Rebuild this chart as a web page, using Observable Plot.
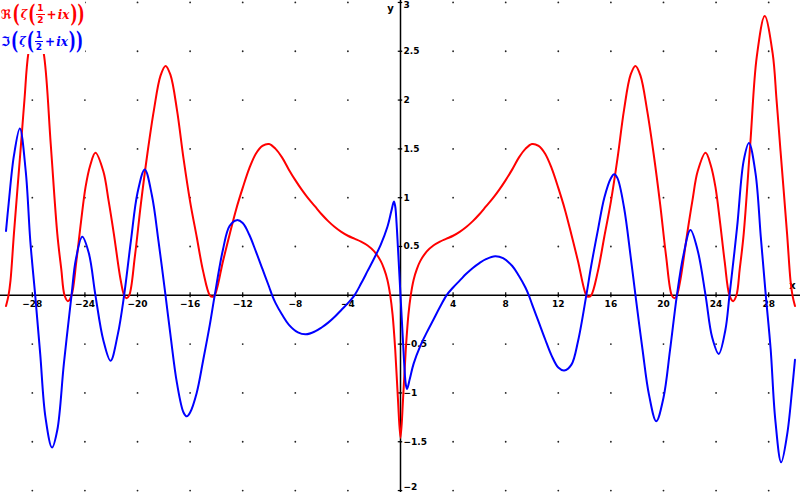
<!DOCTYPE html>
<html>
<head>
<meta charset="utf-8">
<script src="https://cdn.jsdelivr.net/npm/d3@7"></script>
<script src="https://cdn.jsdelivr.net/npm/@observablehq/plot@0.6"></script>
<style>
  html, body { margin: 0; padding: 0; background: #fff; }
  #wrap { position: relative; width: 800px; height: 492px; overflow: hidden; }
  #lgbox { position: absolute; left: 0; top: 0; width: 85px; height: 54px; background: #fff; }
  .lg { position: absolute; left: 1px; height: 27px; display: flex; align-items: center;
        font-family: "DejaVu Serif", "DejaVu Sans", serif; font-weight: bold; line-height: 1; white-space: nowrap; }
  .lg .sym { font-size: 13px; margin-right: 1px; font-family: "DejaVu Sans", sans-serif; }
  .lg .p { font-size: 15px; display: inline-block; transform: scaleY(1.65); margin: 0; }
  .lg .z { font-style: italic; font-size: 11px; margin: 0 1px; }
  .lg .frac { display: inline-flex; flex-direction: column; align-items: center; font-size: 9px; margin: 0 1px; font-family: "DejaVu Sans", sans-serif; }
  .lg .frac .n { border-bottom: 1.4px solid currentColor; padding: 0 1px 1px; }
  .lg .frac .d { padding-top: 1px; }
  .lg .plus { font-size: 12px; margin: 0 1px; }
  .lg .ix { font-style: italic; font-size: 12px; margin-right: 1px; }
</style>
</head>
<body>
<div id="wrap"></div>
<script>
// Re(ζ(1/2+ix))
const reX = [-30, -29.81, -29.66, -29.4, -28.9, -28.6, -28.3, -27.7, -27.1, -26.6, -26.1, -25.8, -25.55, -25.3, -25.02,
  -24.65, -24.3, -23.95, -23.6, -23.2, -22.6, -22.2, -21.8, -21.3, -21.02, -20.84, -20.63, -20.2, -19.75, -19.25,
  -18.75, -18.25, -17.87, -17.5, -17, -16.5, -16, -15.5, -15, -14.5, -14.3, -14.13, -13.5, -13, -12.5, -12, -11.5,
  -11, -10.5, -10, -9.5, -9, -8.5, -8, -7.5, -7, -6.5, -6, -5.5, -5, -4.5, -4, -3.5, -3, -2.5, -2, -1.5, -1.25, -1,
  -0.78, -0.6, -0.4, -0.2, 0,
  0.2, 0.4, 0.6, 0.78, 1, 1.25, 1.5, 2, 2.5, 3, 3.5, 4, 4.5, 5, 5.5, 6, 6.5, 7, 7.5, 8, 8.5, 9, 9.5, 10, 10.5, 11,
  11.5, 12, 12.5, 13, 13.5, 14.13, 14.3, 14.5, 15, 15.5, 16, 16.5, 17, 17.5, 17.87, 18.25, 18.75, 19.25, 19.75, 20.2,
  20.63, 20.84, 21.02, 21.3, 21.8, 22.2, 22.6, 23.2, 23.6, 23.95, 24.3, 24.65, 25.02, 25.3, 25.55, 25.8, 26.1, 26.6,
  27.1, 27.7, 28.3, 28.6, 28.9, 29.4, 29.66, 29.81, 30];
const reY = [-0.11, 0, 0.15, 0.63, 1.48, 2.0, 2.48, 2.86, 2.45, 1.55, 0.63, 0.27, 0, -0.06, 0,
  0.35, 0.75, 1.11, 1.33, 1.46, 1.27, 0.97, 0.63, 0.17, 0, -0.03, 0, 0.4, 0.93, 1.45,
  1.9, 2.25, 2.35, 2.26, 1.9, 1.4, 0.96, 0.6, 0.24, 0, -0.015, 0, 0.35, 0.62, 0.88, 1.1, 1.3,
  1.45, 1.53, 1.55, 1.50, 1.41, 1.29, 1.18, 1.08, 0.99, 0.91, 0.83, 0.76, 0.70, 0.65, 0.61, 0.58, 0.55, 0.51, 0.45, 0.35, 0.27, 0.16,
  0, -0.2, -0.56, -1.05, -1.46,
  -1.05, -0.56, -0.2, 0, 0.16, 0.27, 0.35, 0.45, 0.51, 0.55, 0.58, 0.61, 0.65, 0.70, 0.76, 0.83, 0.91, 0.99, 1.08, 1.18, 1.29, 1.41, 1.50, 1.55, 1.53, 1.45,
  1.3, 1.1, 0.88, 0.62, 0.35, 0, -0.015, 0, 0.24, 0.6, 0.96, 1.4, 1.9, 2.26, 2.35, 2.25, 1.9, 1.45, 0.93, 0.4,
  0, -0.03, 0, 0.17, 0.63, 0.97, 1.27, 1.46, 1.33, 1.11, 0.75, 0.35, 0, -0.06, 0, 0.27, 0.63, 1.55,
  2.45, 2.86, 2.48, 2.0, 1.48, 0.63, 0.15, 0, -0.11];

// Im(ζ(1/2+ix))
const imX = [-30, -29.8, -29.4, -28.95, -28.5, -28.15, -27.78, -27.4, -27, -26.5, -26.1, -25.6, -25.02, -24.7, -24.2,
  -23.7, -23.2, -22.6, -22.05, -21.5, -21.02, -20.5, -20, -19.45, -18.9, -18.4, -17.87, -17.5, -17, -16.5, -16.25,
  -16, -15.5, -15, -14.5, -14.13, -13.5, -13, -12.45, -12, -11.5, -11, -10.5, -10, -9.76, -9.5, -9, -8.5, -7.8,
  -7.2, -6.5, -6, -5.5, -5, -4.5, -4, -3.5, -3, -2.5, -2, -1.5, -1, -0.7, -0.5, -0.4, -0.3, -0.2, -0.1, 0,
  0.1, 0.2, 0.3, 0.4, 0.5, 0.7, 1, 1.5, 2, 2.5, 3, 3.5, 4, 4.5, 5, 5.5, 6, 6.5, 7.2, 7.8, 8.5, 9, 9.5, 9.76, 10,
  10.5, 11, 11.5, 12, 12.45, 13, 13.5, 14.13, 14.5, 15, 15.5, 16, 16.25, 16.5, 17, 17.5, 17.87, 18.4, 18.9, 19.45,
  20, 20.5, 21.02, 21.5, 22.05, 22.6, 23.2, 23.7, 24.2, 24.7, 25.02, 25.6, 26.1, 26.5, 27, 27.4, 27.78, 28.15,
  28.5, 28.95, 29.4, 29.8, 30];
const imY = [0.66, 0.94, 1.43, 1.71, 1.27, 0.55, 0, -0.6, -1.25, -1.56, -1.38, -0.70, 0, 0.36, 0.6,
  0.43, 0, -0.46, -0.67, -0.4, 0, 0.56, 1.05, 1.29, 1.02, 0.55, 0, -0.4, -0.9, -1.2, -1.24,
  -1.2, -1.0, -0.66, -0.3, 0, 0.47, 0.71, 0.77, 0.74, 0.62, 0.45, 0.27, 0.09, 0, -0.08, -0.2, -0.3, -0.38,
  -0.40, -0.37, -0.33, -0.28, -0.22, -0.15, -0.08, 0, 0.12, 0.25, 0.38, 0.52, 0.70, 0.86, 0.96, 0.91, 0.74, 0.5, 0.25, 0,
  -0.25, -0.5, -0.74, -0.91, -0.96, -0.86, -0.70, -0.52, -0.38, -0.25, -0.12, 0, 0.08, 0.15, 0.22, 0.28, 0.33, 0.37, 0.40, 0.38, 0.3, 0.2, 0.08, 0, -0.09,
  -0.27, -0.45, -0.62, -0.74, -0.77, -0.71, -0.47, 0, 0.3, 0.66, 1.0, 1.2, 1.24, 1.2, 0.9, 0.4, 0, -0.55, -1.02, -1.29,
  -1.05, -0.56, 0, 0.4, 0.67, 0.46, 0, -0.43, -0.6, -0.36, 0, 0.70, 1.38, 1.56, 1.25, 0.6, 0, -0.55,
  -1.27, -1.71, -1.43, -0.94, -0.66];

const xTicks = [-28, -24, -20, -16, -12, -8, -4, 4, 8, 12, 16, 20, 24, 28];
const yTicks = [-2, -1.5, -1, -0.5, 0.5, 1, 1.5, 2, 2.5, 3];
const gridX = [-28, -24, -20, -16, -12, -8, -4, 0, 4, 8, 12, 16, 20, 24, 28];
const gridY = [-2, -1.5, -1, -0.5, 0, 0.5, 1, 1.5, 2, 2.5, 3];

const re = reX.map((x, i) => ({x, y: reY[i]}));
const im = imX.map((x, i) => ({x, y: imY[i]}));
const grid = d3.cross(gridX, gridY).map(([x, y]) => ({x, y}));
const fmt = v => String(v).replace("-", "\u2212");
const lab = {fontFamily: "DejaVu Sans, sans-serif", fontWeight: "bold", fontSize: 9, fill: "black"};
const yMid = yTicks.filter(v => v !== 3 && v !== -2);

const chart = Plot.plot({
  width: 800,
  height: 492,
  margin: 0,
  x: {domain: [-30.42, 30.42], axis: null},
  y: {domain: [-2.02, 3.02], axis: null},
  style: {background: "white"},
  marks: [
    Plot.dot(grid, {x: "x", y: "y", r: 0.9, fill: "#222", stroke: null}),
    Plot.ruleY([0], {stroke: "black", strokeWidth: 1.5}),
    Plot.ruleX([0], {stroke: "black", strokeWidth: 1.5}),
    Plot.ruleX(xTicks, {x: d => d, y1: -0.025, y2: 0.025, stroke: "black", strokeWidth: 1.2}),
    Plot.ruleY(yTicks, {y: d => d, x1: -0.17, x2: 0.17, stroke: "black", strokeWidth: 1.2}),
    Plot.text(xTicks, {x: d => d, y: 0, dy: 9, text: fmt, ...lab}),
    Plot.text(yMid, {x: 0, y: d => d, dx: 3, textAnchor: "start", text: fmt, ...lab}),
    Plot.text([3], {x: 0, y: d => d, dx: 3, dy: 3, textAnchor: "start", text: fmt, ...lab}),
    Plot.text([-2], {x: 0, y: d => d, dx: 3, dy: -3, textAnchor: "start", text: fmt, ...lab}),
    Plot.text(["x"], {x: 30.42, y: 0, dx: -8, dy: -10, text: d => d, ...lab, fontSize: 10}),
    Plot.text(["y"], {x: 0, y: 3.02, dx: -10, dy: 8, text: d => d, ...lab, fontSize: 10}),
    Plot.line(re, {x: "x", y: "y", stroke: "#ff0000", strokeWidth: 2, curve: "catmull-rom"}),
    Plot.line(im, {x: "x", y: "y", stroke: "#0000ff", strokeWidth: 2, curve: "catmull-rom"})
  ]
});

const wrap = document.getElementById("wrap");
wrap.appendChild(chart);
const box = document.createElement("div");
box.id = "lgbox";
wrap.appendChild(box);

function legendRow(sym, color, top) {
  const d = document.createElement("div");
  d.className = "lg";
  d.style.color = color;
  d.style.top = top + "px";
  d.innerHTML = `<span class="sym">${sym}</span><span class="p">(</span><span class="z">ζ</span><span class="p">(</span>` +
    `<span class="frac"><span class="n">1</span><span class="d">2</span></span><span class="plus">+</span>` +
    `<span class="ix">ix</span><span class="p">)</span><span class="p">)</span>`;
  box.appendChild(d);
}
legendRow("ℜ", "#ff0000", 1);
legendRow("ℑ", "#0000ff", 28);
</script>
</body>
</html>
